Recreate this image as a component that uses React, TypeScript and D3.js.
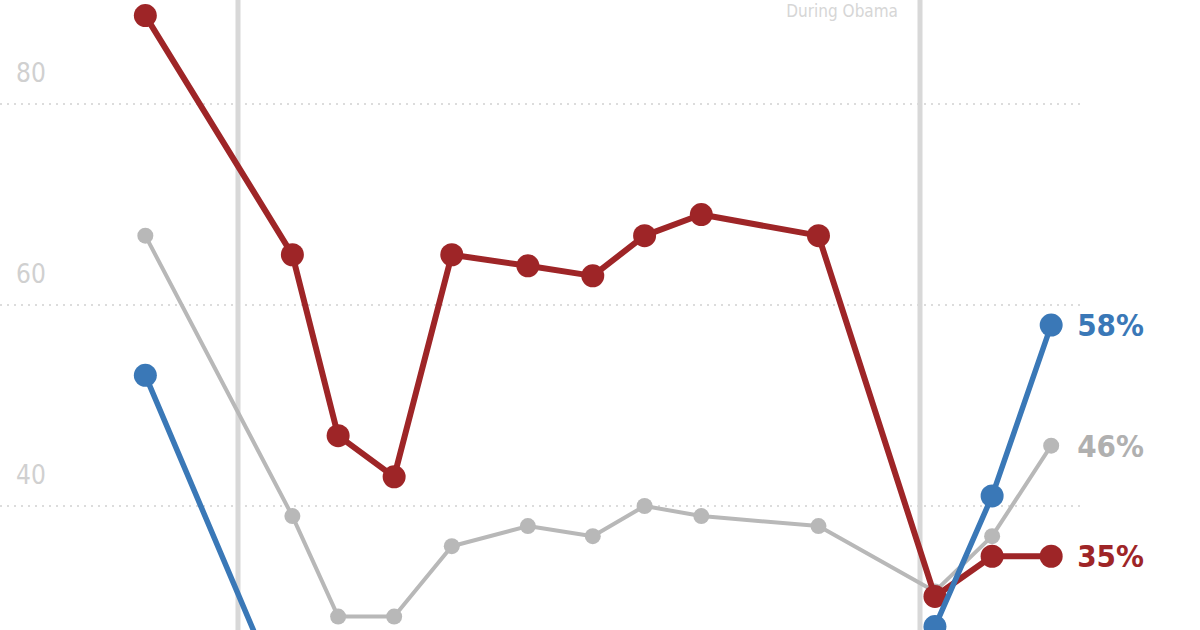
import React from "react"
import * as d3 from "d3"

// survey dates, shared by all three series
const dates: string[] = [
  "2007-12-20",
  "2009-09-10",
  "2010-03-25",
  "2010-11-20",
  "2011-07-25",
  "2012-06-15",
  "2013-03-20",
  "2013-10-28",
  "2014-06-28",
  "2015-11-12",
  "2017-03-25",
  "2017-11-25",
  "2018-08-05",
]

const repValues: number[] = [88.8, 65, 47, 42.9, 65, 63.9, 62.9, 66.9, 69, 66.9, 31, 35, 35]
const indValues: number[] = [66.9, 39, 29, 29, 36, 38, 37, 40, 39, 38, 31.5, 37, 46]
const demValues: number[] = [53, 18.5, 17, 16, 19, 21, 20, 22, 21, 20, 28, 41, 58]

const periodMarks: string[] = ["2009-01-20", "2017-01-20"]
const yTicks: number[] = [40, 60, 80]
const endLabels: string[] = ["58%", "46%", "35%"]

const W = 1200
const H = 630
const FONT = "'DejaVu Sans Condensed', 'Liberation Sans Narrow', Roboto, sans-serif"

const parse = d3.timeParse("%Y-%m-%d")

const App: React.FC = () => {
  const x = d3
    .scaleTime()
    .domain([parse(periodMarks[0])!, parse(periodMarks[1])!])
    .range([238, 920])

  const y = d3.scaleLinear().domain([40, 80]).range([506, 104])

  const series = [
    { name: "ind", values: indValues, color: "#b8b8b8", width: 4, r: 8, label: endLabels[1] },
    { name: "rep", values: repValues, color: "#9e2527", width: 6, r: 11.5, label: endLabels[2] },
    { name: "dem", values: demValues, color: "#3a78b7", width: 5.5, r: 11.5, label: endLabels[0] },
  ]

  const line = d3
    .line<[Date, number]>()
    .x((d) => x(d[0]))
    .y((d) => y(d[1]))

  const lastDate = parse(dates[dates.length - 1])!

  return (
    <div style={{ position: "fixed", left: 0, top: 0 }}>
      <svg width={W} height={H} style={{ display: "block", background: "#fff" }}>
        {yTicks.map((t) => (
          <g key={t}>
            <line
              x1={0}
              x2={1085}
              y1={y(t)}
              y2={y(t)}
              stroke="#dcdcdc"
              strokeWidth={2}
              strokeDasharray="2 5"
            />
            <text x={16} y={y(t) - 22} fontFamily={FONT} fontSize={26} fill="#d0d0d0">
              {t}
            </text>
          </g>
        ))}

        {periodMarks.map((d) => (
          <line
            key={d}
            x1={x(parse(d)!)}
            x2={x(parse(d)!)}
            y1={0}
            y2={H}
            stroke="#d8d8d8"
            strokeWidth={5}
          />
        ))}

        <text x={898} y={17} textAnchor="end" fontFamily={FONT} fontSize={17} fill="#d6d6d6">
          During Obama
        </text>

        {series.map((s) => {
          const pts: [Date, number][] = dates.map((d, i) => [parse(d)!, s.values[i]])
          return (
            <g key={s.name}>
              <path
                d={line(pts) || ""}
                fill="none"
                stroke={s.color}
                strokeWidth={s.width}
                strokeLinejoin="round"
              />
              {pts.map((p, i) => (
                <circle key={i} cx={x(p[0])} cy={y(p[1])} r={s.r} fill={s.color} />
              ))}
            </g>
          )
        })}

        {series.map((s) => (
          <text
            key={s.name + "-label"}
            x={x(lastDate) + 26}
            y={y(s.values[s.values.length - 1])}
            dy="0.35em"
            fontFamily={FONT}
            fontSize={31}
            fontWeight="bold"
            fill={s.name === "ind" ? "#b0b0b0" : s.color}
          >
            {s.label}
          </text>
        ))}
      </svg>
    </div>
  )
}

export default App
